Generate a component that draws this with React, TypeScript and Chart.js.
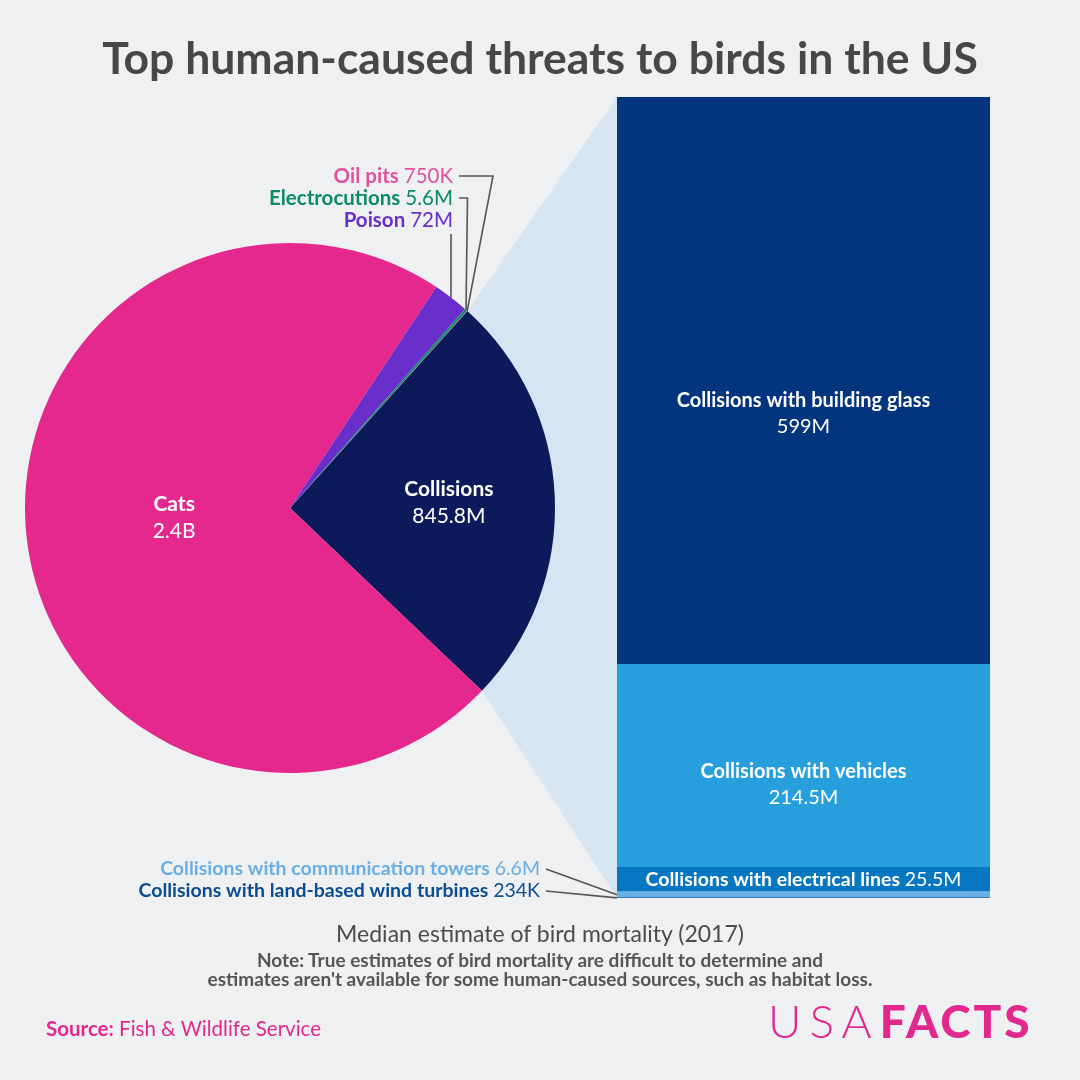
import React, { useEffect, useRef } from "react";
import { Chart, registerables } from "chart.js";
Chart.register(...registerables);

// Pie: human-caused bird mortality, millions
const pieLabels = ["Collisions", "Cats", "Poison", "Electrocutions", "Oil pits"];
const pieValues = [845.8, 2400, 72, 5.6, 0.75];
const pieValueText = ["845.8M", "2.4B", "72M", "5.6M", "750K"];
const pieColors = ["#0c195b", "#e5288e", "#6a2ecb", "#0b8f6a", "#e35aa8"];
const pieLabelColors = ["#ffffff", "#ffffff", "#6a2ecb", "#0b8c66", "#e0529f"];

// Stacked bar: breakdown of collisions, millions (bottom to top)
const barLabels = [
  "Collisions with land-based wind turbines",
  "Collisions with communication towers",
  "Collisions with electrical lines",
  "Collisions with vehicles",
  "Collisions with building glass",
];
const barValues = [0.234, 6.6, 25.5, 214.5, 599];
const barValueText = ["234K", "6.6M", "25.5M", "214.5M", "599M"];
const barColors = ["#0a4d92", "#6aaee6", "#0877c1", "#269fdc", "#02357d"];
const barLabelColors = ["#0b4c92", "#6aaee6", "#ffffff", "#ffffff", "#ffffff"];

const FONT = "Lato, 'Open Sans', sans-serif";

type Part = { text: string; bold: boolean; color: string };

function drawRich(ctx: CanvasRenderingContext2D, parts: Part[], x: number, y: number, align: "left" | "center" | "right", size: number) {
  ctx.save();
  ctx.textBaseline = "middle";
  ctx.textAlign = "left";
  const widths = parts.map((p) => {
    ctx.font = `${p.bold ? 700 : 400} ${size}px ${FONT}`;
    return ctx.measureText(p.text).width;
  });
  const total = widths.reduce((a, b) => a + b, 0);
  let cx = align === "left" ? x : align === "center" ? x - total / 2 : x - total;
  parts.forEach((p, i) => {
    ctx.font = `${p.bold ? 700 : 400} ${size}px ${FONT}`;
    ctx.fillStyle = p.color;
    ctx.fillText(p.text, cx, y);
    cx += widths[i];
  });
  ctx.restore();
}

export default function App() {
  const pieRef = useRef<HTMLCanvasElement>(null);
  const barRef = useRef<HTMLCanvasElement>(null);

  useEffect(() => {
    const pieLabelPlugin = {
      id: "pieLabels",
      afterDatasetsDraw(chart: any) {
        const ctx: CanvasRenderingContext2D = chart.ctx;
        const meta = chart.getDatasetMeta(0);
        // big in-slice labels
        const big = [
          { i: 1, f: 0.44, dy: -4 },
          { i: 0, f: 0.6, dy: 0 },
        ];
        big.forEach(({ i, f, dy }) => {
          const a = meta.data[i];
          const mid = (a.startAngle + a.endAngle) / 2;
          const cx = a.x + Math.cos(mid) * a.outerRadius * f;
          const cy = a.y + Math.sin(mid) * a.outerRadius * f + dy;
          drawRich(ctx, [{ text: pieLabels[i], bold: true, color: pieLabelColors[i] }], cx, cy - 13, "center", 21);
          drawRich(ctx, [{ text: pieValueText[i], bold: false, color: pieLabelColors[i] }], cx, cy + 14, "center", 21);
        });
        // small slice labels with leader lines
        const small = [
          { i: 4, y: 176 },
          { i: 3, y: 198 },
          { i: 2, y: 220 },
        ];
        const rightX = 453;
        ctx.save();
        ctx.strokeStyle = "#555555";
        ctx.lineWidth = 1.6;
        small.forEach(({ i, y }) => {
          drawRich(
            ctx,
            [
              { text: pieLabels[i] + " ", bold: true, color: pieLabelColors[i] },
              { text: pieValueText[i], bold: false, color: pieLabelColors[i] },
            ],
            rightX,
            y,
            "right",
            20.5
          );
          const a = meta.data[i];
          const mid = (a.startAngle + a.endAngle) / 2;
          const px = a.x + Math.cos(mid) * a.outerRadius;
          const py = a.y + Math.sin(mid) * a.outerRadius;
          ctx.beginPath();
          if (i === 2) {
            ctx.moveTo(px, y + 14);
            ctx.lineTo(px, py);
          } else if (i === 3) {
            ctx.moveTo(rightX + 6, y);
            ctx.lineTo(px + 1.5, y);
            ctx.lineTo(px, py);
          } else {
            ctx.moveTo(rightX + 6, y);
            ctx.lineTo(493, y);
            ctx.lineTo(px, py);
          }
          ctx.stroke();
        });
        ctx.restore();
      },
    };

    const pieChart = new Chart(pieRef.current as HTMLCanvasElement, {
      type: "pie",
      data: {
        labels: pieLabels,
        datasets: [{ data: pieValues, backgroundColor: pieColors, borderWidth: 0 }],
      },
      options: {
        responsive: false,
        animation: false,
        devicePixelRatio: 1,
        rotation: 42,
        layout: { padding: { left: 25, right: 525, top: 243, bottom: 307 } },
        plugins: { legend: { display: false }, tooltip: { enabled: false } },
      },
      plugins: [pieLabelPlugin],
    } as any);

    const total = barValues.reduce((a, b) => a + b, 0);

    const connectorPlugin = {
      id: "connector",
      beforeDatasetsDraw(chart: any) {
        const ctx: CanvasRenderingContext2D = chart.ctx;
        const a: any = pieChart.getDatasetMeta(0).data[0];
        const r = a.outerRadius;
        const p1 = [a.x + Math.cos(a.startAngle) * r, a.y + Math.sin(a.startAngle) * r];
        const p2 = [a.x + Math.cos(a.endAngle) * r, a.y + Math.sin(a.endAngle) * r];
        const topEl: any = chart.getDatasetMeta(barValues.length - 1).data[0];
        const botEl: any = chart.getDatasetMeta(0).data[0];
        const left = topEl.x - topEl.width / 2;
        ctx.save();
        ctx.fillStyle = "#d5e5f2";
        ctx.beginPath();
        ctx.moveTo(p1[0], p1[1]);
        ctx.lineTo(left, topEl.y);
        ctx.lineTo(left, botEl.base);
        ctx.lineTo(p2[0], p2[1]);
        ctx.closePath();
        ctx.fill();
        ctx.restore();
      },
    };

    const barLabelPlugin = {
      id: "barLabels",
      afterDatasetsDraw(chart: any) {
        const ctx: CanvasRenderingContext2D = chart.ctx;
        const el = (i: number) => chart.getDatasetMeta(i).data[0] as any;
        // two-line labels
        [
          { i: 4, off: 33 },
          { i: 3, off: 19 },
        ].forEach(({ i, off }) => {
          const e = el(i);
          const cy = (e.y + e.base) / 2 + off;
          drawRich(ctx, [{ text: barLabels[i], bold: true, color: barLabelColors[i] }], e.x, cy - 13, "center", 20);
          drawRich(ctx, [{ text: barValueText[i], bold: false, color: barLabelColors[i] }], e.x, cy + 13, "center", 20);
        });
        // one-line label inside
        {
          const e = el(2);
          drawRich(
            ctx,
            [
              { text: barLabels[2] + " ", bold: true, color: barLabelColors[2] },
              { text: barValueText[2], bold: false, color: barLabelColors[2] },
            ],
            e.x,
            (e.y + e.base) / 2,
            "center",
            19.5
          );
        }
        // outside labels with leader lines
        ctx.save();
        ctx.strokeStyle = "#555555";
        ctx.lineWidth = 1.6;
        [
          { i: 1, y: 869 },
          { i: 0, y: 891 },
        ].forEach(({ i, y }) => {
          const e = el(i);
          drawRich(
            ctx,
            [
              { text: barLabels[i] + " ", bold: true, color: barLabelColors[i] },
              { text: barValueText[i], bold: false, color: barLabelColors[i] },
            ],
            540,
            y,
            "right",
            19.5
          );
          const left = e.x - e.width / 2;
          ctx.beginPath();
          ctx.moveTo(546, y);
          ctx.lineTo(left, (e.y + e.base) / 2);
          ctx.stroke();
        });
        ctx.restore();
      },
    };

    const barChart = new Chart(barRef.current as HTMLCanvasElement, {
      type: "bar",
      data: {
        labels: [""],
        datasets: barLabels.map((l, i) => ({
          label: l,
          data: [barValues[i]],
          backgroundColor: barColors[i],
          borderWidth: 0,
          barPercentage: 1,
          categoryPercentage: 1,
        })),
      },
      options: {
        responsive: false,
        animation: false,
        devicePixelRatio: 1,
        layout: { padding: { left: 617, right: 90, top: 97, bottom: 182 } },
        scales: {
          x: { stacked: true, display: false },
          y: { stacked: true, display: false, min: 0, max: total },
        },
        plugins: { legend: { display: false }, tooltip: { enabled: false } },
      },
      plugins: [connectorPlugin, barLabelPlugin],
    } as any);

    return () => {
      barChart.destroy();
      pieChart.destroy();
    };
  }, []);

  const abs = (s: React.CSSProperties): React.CSSProperties => ({ position: "absolute", whiteSpace: "nowrap", fontFamily: FONT, ...s });

  return (
    <div style={{ position: "absolute", left: 0, top: 0, width: 1080, height: 1080, background: "#eff0f2", overflow: "hidden" }}>
      <canvas ref={barRef} width={1080} height={1080} style={{ position: "absolute", left: 0, top: 0, width: 1080, height: 1080 }} />
      <canvas ref={pieRef} width={1080} height={1080} style={{ position: "absolute", left: 0, top: 0, width: 1080, height: 1080 }} />
      <div style={abs({ left: 540, top: 28, transform: "translateX(-50%)", fontSize: 44.5, fontWeight: 700, color: "#474747", lineHeight: "58px" })}>
        Top human-caused threats to birds in the US
      </div>
      <div style={abs({ left: 540, top: 918, transform: "translateX(-50%)", fontSize: 23, fontWeight: 400, color: "#4b4b4b", lineHeight: "30px" })}>
        Median estimate of bird mortality (2017)
      </div>
      <div style={abs({ left: 540, top: 950, transform: "translateX(-50%)", fontSize: 19, fontWeight: 700, color: "#555555", lineHeight: "19px", textAlign: "center" })}>
        Note: True estimates of bird mortality are difficult to determine and
        <br />
        estimates aren't available for some human-caused sources, such as habitat loss.
      </div>
      <div style={abs({ left: 46, top: 1014, fontSize: 20.5, color: "#e0288e", lineHeight: "28px" })}>
        <span style={{ fontWeight: 700 }}>Source:</span> Fish &amp; Wildlife Service
      </div>
      <div style={abs({ left: 768, top: 994, fontSize: 46, color: "#e0288e", lineHeight: "54px" })}>
        <span style={{ fontWeight: 300, letterSpacing: 8 }}>USA</span>
        <span style={{ fontWeight: 900, letterSpacing: 3 }}>FACTS</span>
      </div>
    </div>
  );
}
